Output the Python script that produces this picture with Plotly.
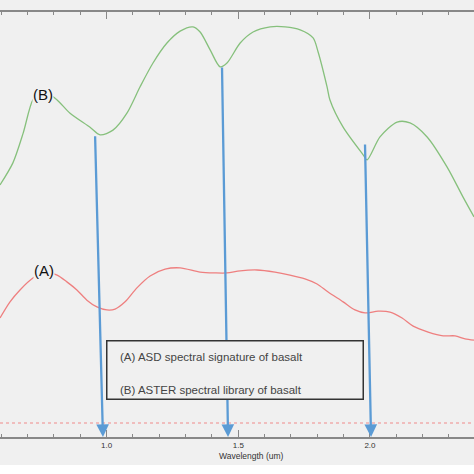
import plotly.graph_objects as go

# Wavelength (um) and relative reflectance values
wl_b = [0.595, 0.644, 0.683, 0.720, 0.747, 0.774, 0.812, 0.861, 0.937, 0.975, 1.024, 1.077,
        1.127, 1.176, 1.229, 1.279, 1.328, 1.355, 1.393, 1.431, 1.457, 1.507, 1.556, 1.621,
        1.678, 1.735, 1.784, 1.803, 1.837, 1.848, 1.898, 1.974, 1.989, 2.038, 2.103, 2.152,
        2.217, 2.293, 2.353, 2.395]
refl_b = [59.3, 64.5, 71.5, 79.3, 80.7, 80.9, 79.3, 76.2, 72.9, 71.1, 72.2, 76.2,
          82.4, 88.0, 92.7, 95.5, 96.5, 95.3, 91.1, 87.1, 88.0, 92.7, 95.3, 96.5,
          96.5, 95.8, 93.9, 90.6, 82.4, 79.3, 72.9, 66.4, 65.2, 70.6, 74.1, 73.9,
          70.6, 63.5, 56.5, 51.8]

wl_a = [0.595, 0.633, 0.671, 0.720, 0.766, 0.812, 0.849, 0.887, 0.925, 0.963, 1.001, 1.032,
        1.070, 1.115, 1.165, 1.222, 1.279, 1.355, 1.412, 1.457, 1.507, 1.571, 1.639, 1.696,
        1.753, 1.799, 1.841, 1.898, 1.943, 1.981, 2.031, 2.076, 2.122, 2.164, 2.221, 2.278,
        2.323, 2.361, 2.395]
refl_a = [28.0, 31.8, 34.6, 37.4, 38.8, 38.1, 36.5, 34.6, 32.2, 30.6, 29.9, 30.1,
          31.8, 35.1, 37.9, 39.5, 39.8, 38.8, 38.6, 38.6, 39.1, 39.3, 38.8, 38.1,
          37.2, 36.0, 34.1, 31.8, 29.9, 29.2, 29.6, 29.4, 28.0, 26.1, 24.7, 23.8,
          23.8, 23.1, 22.8]

baseline_level = 3.3
x_range = [0.595, 2.395]
y_range = [0, 100]

# Absorption-feature arrows: (tail wavelength, tail value, head wavelength)
arrow_tail_wl = [0.956, 1.438, 1.981]
arrow_tail_val = [71.1, 87.3, 69.2]
arrow_head_wl = [0.986, 1.461, 2.004]

legend_lines = ["(A) ASD spectral signature of basalt", "(B) ASTER spectral library of basalt"]
legend_line_y = [18.8, 11.1]
legend_box = dict(x0=0.998, x1=1.974, y0=8.7, y1=22.6)

curve_labels = ["(B)", "(A)"]
curve_label_pos = [(0.758, 80.5), (0.762, 39.1)]

BG = "#f0f0f0"
FONT = "Liberation Sans"

fig = go.Figure()
fig.add_trace(go.Scatter(x=wl_b, y=refl_b, mode="lines",
                         line=dict(color="#86c07c", width=1.3, shape="spline", smoothing=0.8),
                         hoverinfo="skip"))
fig.add_trace(go.Scatter(x=wl_a, y=refl_a, mode="lines",
                         line=dict(color="#ee7f7f", width=1.3, shape="spline", smoothing=0.8),
                         hoverinfo="skip"))
fig.add_trace(go.Scatter(x=x_range, y=[baseline_level, baseline_level], mode="lines",
                         line=dict(color="#f08a8a", width=1.2, dash="dot"), hoverinfo="skip"))

ann = []
for tw, tv, hw in zip(arrow_tail_wl, arrow_tail_val, arrow_head_wl):
    ann.append(dict(x=hw, y=y_range[0], ax=tw, ay=tv, xref="x", yref="y", axref="x", ayref="y",
                    showarrow=True, arrowhead=2, arrowsize=1.1, arrowwidth=2.3,
                    arrowcolor="#5b9bd5", text=""))

# legend box (opaque, covers the middle arrow)
bx = (legend_box["x0"] + legend_box["x1"]) / 2
by = (legend_box["y0"] + legend_box["y1"]) / 2
ann.append(dict(x=bx, y=by, xref="x", yref="y", text="", showarrow=False,
                width=255, height=57, bgcolor=BG, bordercolor="#333333", borderwidth=1.5,
                borderpad=0, xanchor="center", yanchor="middle"))
for t, ly in zip(legend_lines, legend_line_y):
    ann.append(dict(x=1.043, y=ly, xref="x", yref="y", text=t, showarrow=False,
                    xanchor="left", yanchor="middle",
                    font=dict(family=FONT, size=11.5, color="#444444")))

for t, (lx, ly) in zip(curve_labels, curve_label_pos):
    ann.append(dict(x=lx, y=ly, xref="x", yref="y", text=t, showarrow=False,
                    xanchor="center", yanchor="middle", bgcolor=BG, borderpad=0,
                    font=dict(family=FONT, size=15, color="#111111")))

ann.append(dict(x=0.53, y=-0.045, xref="paper", yref="paper", text="Wavelength (um)",
                showarrow=False, xanchor="center", yanchor="middle",
                font=dict(family=FONT, size=8.5, color="#333333")))

fig.update_layout(
    width=474, height=474,
    margin=dict(l=0, r=0, t=12, b=37),
    paper_bgcolor=BG, plot_bgcolor=BG,
    showlegend=False,
    annotations=ann,
    shapes=[dict(type="rect", xref="paper", yref="paper", x0=-0.01, x1=1.01, y0=-0.066, y1=-0.2,
                 fillcolor="white", line=dict(width=0), layer="below")],
    xaxis=dict(range=x_range, showgrid=False, zeroline=False,
               showline=True, linecolor="#888888", linewidth=1.5, mirror="ticks",
               ticks="inside", ticklen=7, tickwidth=1, tickcolor="#888888",
               tick0=0.5, dtick=0.5, tickformat=".1f",
               tickfont=dict(family=FONT, size=8, color="#333333"),
               minor=dict(ticks="inside", dtick=0.1, ticklen=3.5, tickcolor="#888888", tickwidth=1)),
    yaxis=dict(range=y_range, visible=False, showgrid=False, zeroline=False),
)

fig.write_html("out.html", config={"displayModeBar": False},
               post_script="document.body.style.margin='0';document.body.style.padding='0';")
